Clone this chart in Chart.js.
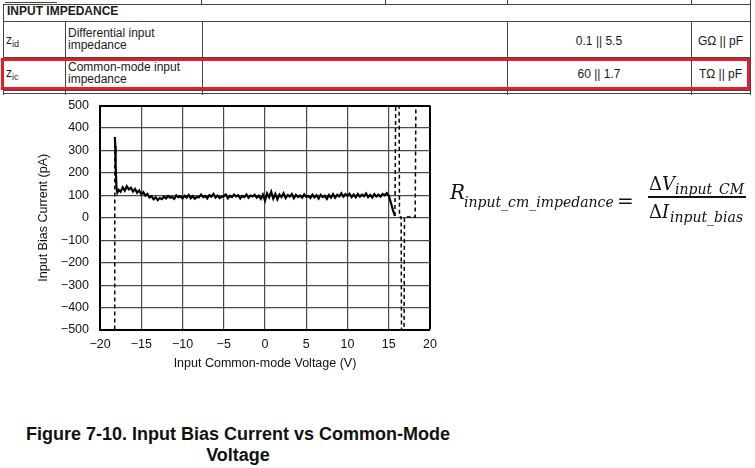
<!DOCTYPE html>
<html>
<head>
<meta charset="utf-8">
<script src="https://cdn.jsdelivr.net/npm/chart.js@4/dist/chart.umd.min.js"></script>
<style>
  body { margin: 0; width: 755px; height: 468px; background: #fff; position: relative; overflow: hidden;
         font-family: "Liberation Sans", Arial, sans-serif; color: #1a1a1a; }
  .h { position: absolute; height: 1px; background: #444; }
  .v { position: absolute; width: 1px; background: #444; }
  .t { position: absolute; font-size: 12px; line-height: 14px; white-space: nowrap; }
  .t sub { font-size: 9px; vertical-align: -3px; line-height: 0; }
  .ctr { text-align: center; }
  #hl { position: absolute; left: 1px; top: 58px; width: 743px; height: 26px; border: 3px solid #e31e2a; }
  #chartBox { position: absolute; left: 0; top: 87px; line-height: 0; }
  .m { position: absolute; font-family: "DejaVu Serif", serif; font-style: italic; line-height: 1; white-space: nowrap; color: #111; }
  .up { font-style: normal; }
  #bar { position: absolute; left: 648px; top: 196px; width: 98px; height: 2px; background: #111; }
  #caption { position: absolute; left: 0; top: 424px; width: 476px; text-align: center;
             font-weight: bold; font-size: 18px; line-height: 21px; color: #111; }
</style>
</head>
<body>
<!-- spec table grid -->
<div class="h" style="left:5px;top:2px;width:52px"></div>
<div class="h" style="left:3px;top:4px;width:748px"></div>
<div class="h" style="left:3px;top:21px;width:748px"></div>
<div class="h" style="left:3px;top:57px;width:748px"></div>
<div class="h" style="left:3px;top:90px;width:748px"></div>
<div class="h" style="left:3px;top:93px;width:748px"></div>
<div class="v" style="left:3px;top:4px;height:91px"></div>
<div class="v" style="left:750px;top:0;height:95px"></div>
<div class="v" style="left:65px;top:21px;height:74px"></div>
<div class="v" style="left:202px;top:21px;height:74px"></div>
<div class="v" style="left:507px;top:21px;height:74px"></div>
<div class="v" style="left:691px;top:21px;height:74px"></div>
<div class="v" style="left:201px;top:0;height:4px"></div>
<div class="v" style="left:385px;top:0;height:4px"></div>
<div class="v" style="left:507px;top:0;height:4px"></div>
<div class="v" style="left:691px;top:0;height:4px"></div>

<div class="t" style="left:7px;top:4px;font-weight:bold">INPUT IMPEDANCE</div>
<div class="t" style="left:6px;top:33px">z<sub>id</sub></div>
<div class="t" style="left:68px;top:26px">Differential input</div>
<div class="t" style="left:68px;top:38px">impedance</div>
<div class="t ctr" style="left:507px;top:34px;width:184px">0.1 || 5.5</div>
<div class="t ctr" style="left:691px;top:34px;width:59px">GΩ || pF</div>
<div class="t" style="left:6px;top:66px">z<sub>ic</sub></div>
<div class="t" style="left:68px;top:60px">Common-mode input</div>
<div class="t" style="left:68px;top:72px">impedance</div>
<div class="t ctr" style="left:507px;top:67px;width:184px">60 || 1.7</div>
<div class="t ctr" style="left:691px;top:67px;width:59px">TΩ || pF</div>
<div id="hl"></div>

<div id="chartBox"><canvas id="ibChart" width="450" height="293"></canvas></div>

<div class="m" style="left:450px;top:182px;font-size:20px">R</div>
<div class="m" style="left:464px;top:195px;font-size:14px">input_cm_impedance</div>
<div class="m up" style="left:617px;top:191px;font-size:20px">=</div>
<div class="m" style="left:649px;top:175px;font-size:18px"><span class="up">Δ</span>V</div>
<div class="m" style="left:675px;top:182px;font-size:14px">input_CM</div>
<div id="bar"></div>
<div class="m" style="left:649px;top:203px;font-size:18px"><span class="up">Δ</span>I</div>
<div class="m" style="left:670px;top:210px;font-size:14px">input_bias</div>

<div id="caption">Figure 7-10. Input Bias Current vs Common-Mode<br>Voltage</div>

<script>
// measured bias current (pA) against common-mode voltage (V)
const vcm = [-18.2, -18.15, -18.1, -18.0, -17.9, -17.75, -17.5, -17.25, -17.0, -16.75, -16.5, -16.25, -16.0,
  -15.75, -15.5, -15.25, -15.0, -14.75, -14.5, -14.25, -14.0, -13.75, -13.5, -13.25, -13.0, -12.75, -12.5,
  -12.25, -12.0, -11.75, -11.5, -11.25, -11.0, -10.75, -10.5, -10.25, -10.0, -9.75, -9.5, -9.25, -9.0,
  -8.75, -8.5, -8.25, -8.0, -7.75, -7.5, -7.25, -7.0, -6.75, -6.5, -6.25, -6.0, -5.75, -5.5, -5.25, -5.0,
  -4.75, -4.5, -4.25, -4.0, -3.75, -3.5, -3.25, -3.0, -2.75, -2.5, -2.25, -2.0, -1.75, -1.5, -1.25, -1.0,
  -0.75, -0.5, -0.25, 0.0, 0.25, 0.5, 0.75, 1.0, 1.25, 1.5, 1.75, 2.0, 2.25, 2.5, 2.75, 3.0, 3.25, 3.5,
  3.75, 4.0, 4.25, 4.5, 4.75, 5.0, 5.25, 5.5, 5.75, 6.0, 6.25, 6.5, 6.75, 7.0, 7.25, 7.5, 7.75, 8.0, 8.25,
  8.5, 8.75, 9.0, 9.25, 9.5, 9.75, 10.0, 10.25, 10.5, 10.75, 11.0, 11.25, 11.5, 11.75, 12.0, 12.25, 12.5,
  12.75, 13.0, 13.25, 13.5, 13.75, 14.0, 14.25, 14.5, 14.75, 15.0, 15.25, 15.5, 15.75];
const ibias = [360, 320, 230, 132, 112, 124, 116, 136, 121, 140, 126, 134, 117,
  128, 111, 122, 104, 114, 99, 106, 90, 96, 82, 91, 79, 88, 83,
  94, 86, 97, 89, 92, 84, 99, 91, 95, 86, 98, 90, 102, 87,
  96, 85, 93, 91, 103, 92, 97, 86, 101, 94, 106, 90, 99, 88, 93, 96,
  104, 87, 98, 92, 103, 95, 100, 86, 97, 92, 104, 89, 99, 95, 102, 90,
  98, 84, 103, 76, 108, 91, 116, 85, 106, 82, 103, 92, 109, 88, 101, 95, 106, 87,
  102, 92, 99, 89, 104, 93, 97, 88, 103, 91, 100, 85, 102, 92, 98, 84, 101, 90, 105,
  89, 102, 95, 109, 94, 105, 97, 107, 92, 103, 91, 106, 94, 103, 96, 108, 92,
  102, 90, 105, 95, 103, 94, 106, 100, 110, 99, 68, 35, 8];

// off-scale excursions near the supply rails (dashed)
const railLowV = [-18.22, -18.2];
const railLowI = [-560, 355];
const railHighV = [15.75, 15.85, 16.25, 16.3, 16.5, 16.55, 16.85, 16.9, 18.2, 18.3];
const railHighI = [8, 560, 560, 5, 3, -560, -560, 3, 3, 560];

const toXY = (xs, ys) => xs.map((x, i) => ({ x: x, y: ys[i] }));
const minus = v => String(v).replace('-', '\u2212');
const tickFont = { family: '"Liberation Sans", Arial, sans-serif', size: 12.5 };
const edge = (c, v) => (c.tick && c.tick.value === v) ? '#000' : '#4a4a4a';
const edgeW = (c, v) => (c.tick && c.tick.value === v) ? 2 : 1.2;

new Chart(document.getElementById('ibChart'), {
  type: 'line',
  data: {
    datasets: [
      { data: toXY(vcm, ibias), borderColor: '#000', borderWidth: 2.2, pointRadius: 0, tension: 0 },
      { data: toXY(railLowV, railLowI), borderColor: '#000', borderWidth: 1.5, borderDash: [4, 3], pointRadius: 0 },
      { data: toXY(railHighV, railHighI), borderColor: '#000', borderWidth: 1.5, borderDash: [4, 3], pointRadius: 0 }
    ]
  },
  options: {
    responsive: false,
    animation: false,
    devicePixelRatio: 1,
    layout: { padding: { top: 0, right: 20, left: 0, bottom: 0 } },
    plugins: { legend: { display: false }, tooltip: { enabled: false } },
    scales: {
      x: {
        type: 'linear', min: -20, max: 20,
        afterFit: s => { s.height = 50; },
        ticks: { stepSize: 5, padding: 7, color: '#111', font: tickFont, callback: minus, maxRotation: 0 },
        grid: { drawTicks: false, color: c => edge(c, 20), lineWidth: c => edgeW(c, 20) },
        border: { display: true, color: '#000', width: 2 },
        title: { display: true, text: 'Input Common-mode Voltage (V)', color: '#111', font: tickFont, padding: { top: 0, bottom: 8.5 } }
      },
      y: {
        min: -500, max: 500,
        afterFit: s => { s.width = 100; },
        ticks: { stepSize: 100, padding: 11, color: '#111', font: tickFont, callback: minus },
        grid: { drawTicks: false, color: c => edge(c, 500), lineWidth: c => edgeW(c, 500) },
        border: { display: true, color: '#000', width: 2 },
        title: { display: true, text: 'Input Bias Current (pA)', color: '#111', font: tickFont, padding: { top: 36, bottom: 0 } }
      }
    }
  }
});
</script>
</body>
</html>
